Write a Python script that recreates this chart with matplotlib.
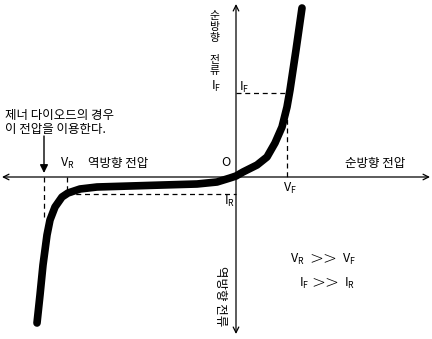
import matplotlib
matplotlib.use("Agg")
import matplotlib.pyplot as plt

plt.rcParams['font.family'] = ['Noto Sans CJK KR', 'DejaVu Sans']
plt.rcParams['mathtext.fontset'] = 'custom'
plt.rcParams['mathtext.rm'] = 'DejaVu Sans'

# Schematic diode I-V curve (pixel coordinates of the diagram)
curve_x = [37, 40, 43, 45, 47, 50, 55, 62, 68, 80, 97, 130, 163, 197, 217, 230, 236,
           243, 257, 267, 275, 282, 287, 290, 296, 302]
curve_y = [323, 295, 265, 250, 235, 220, 207, 197, 193, 189, 187, 186, 185, 184, 182, 178, 176,
           172, 165, 157, 143, 127, 107, 90, 50, 8]

axis_y = 177
axis_x = 236
vf_x, if_y = 287, 93
vr_x, ir_y = 67, 194
zener_x = 44

fig = plt.figure(figsize=(4.32, 3.39), dpi=100)
ax = fig.add_axes([0, 0, 1, 1])
ax.set_xlim(0, 432)
ax.set_ylim(339, 0)
ax.axis('off')

def arrow(x0, y0, x1, y1):
    ax.annotate('', xy=(x1, y1), xytext=(x0, y0),
                arrowprops=dict(arrowstyle='->', lw=0.9, color='black',
                                shrinkA=0, shrinkB=0, mutation_scale=10))

# axes (double-headed)
arrow(axis_x, axis_y, 430, axis_y)
arrow(axis_x, axis_y, 2, axis_y)
arrow(axis_x, axis_y, axis_x, 4)
arrow(axis_x, axis_y, axis_x, 334)

# dashed guide lines
dash = dict(color='black', lw=0.9, ls=(0, (4, 3)))
ax.plot([axis_x, vf_x], [if_y, if_y], **dash)
ax.plot([vf_x, vf_x], [if_y, axis_y], **dash)
ax.plot([vr_x, axis_x], [ir_y, ir_y], **dash)
ax.plot([vr_x, vr_x], [axis_y, ir_y + 2], **dash)
ax.plot([zener_x, zener_x], [axis_y, 218], **dash)

# zener arrow
ax.annotate('', xy=(zener_x, 173), xytext=(zener_x, 136),
            arrowprops=dict(arrowstyle='-|>', lw=1.0, color='black',
                            shrinkA=0, shrinkB=0, mutation_scale=12))

# curve
ax.plot(curve_x, curve_y, color='black', lw=5.5, solid_capstyle='round',
        solid_joinstyle='round')

fs = 9
ax.text(5, 115, '제너 다이오드의 경우', fontsize=fs, va='center', ha='left')
ax.text(5, 130, '이 전압을 이용한다.', fontsize=fs, va='center', ha='left')
ax.text(60, 163, r'V$_\mathregular{R}$', fontsize=fs, va='center', ha='left')
ax.text(88, 163, '역방향 전압', fontsize=fs, va='center', ha='left')
ax.text(226, 162, 'O', fontsize=fs, va='center', ha='center')
ax.text(345, 163, '순방향 전압', fontsize=fs, va='center', ha='left')
ax.text(283, 188, r'V$_\mathregular{F}$', fontsize=fs, va='center', ha='left')
ax.text(224, 201, r'I$_\mathregular{R}$', fontsize=fs, va='center', ha='left')
ax.text(239, 87, r'I$_\mathregular{F}$', fontsize=fs, va='center', ha='left')
ax.text(211, 86, r'I$_\mathregular{F}$', fontsize=fs, va='center', ha='left')

# stacked vertical label (upright glyphs)
stack_chars = ['순', '방', '향', '', '전', '류']
for i, ch in enumerate(stack_chars):
    if ch:
        ax.text(214, 16 + i * 11.0, ch, fontsize=7.8, va='center', ha='center')

# rotated label
ax.text(221, 296, '역방향 전류', fontsize=fs, va='center', ha='center', rotation=-90)

# relations
gt = dict(fontsize=12, va='center', ha='left', family='DejaVu Sans', fontweight='light')
ax.text(290, 259, r'V$_\mathregular{R}$', fontsize=fs, va='center', ha='left')
ax.text(309, 258, '>>', **gt)
ax.text(342, 259, r'V$_\mathregular{F}$', fontsize=fs, va='center', ha='left')
ax.text(299, 283, r'I$_\mathregular{F}$', fontsize=fs, va='center', ha='left')
ax.text(311, 282, '>>', **gt)
ax.text(344, 283, r'I$_\mathregular{R}$', fontsize=fs, va='center', ha='left')

fig.savefig('out.png', dpi=100)
